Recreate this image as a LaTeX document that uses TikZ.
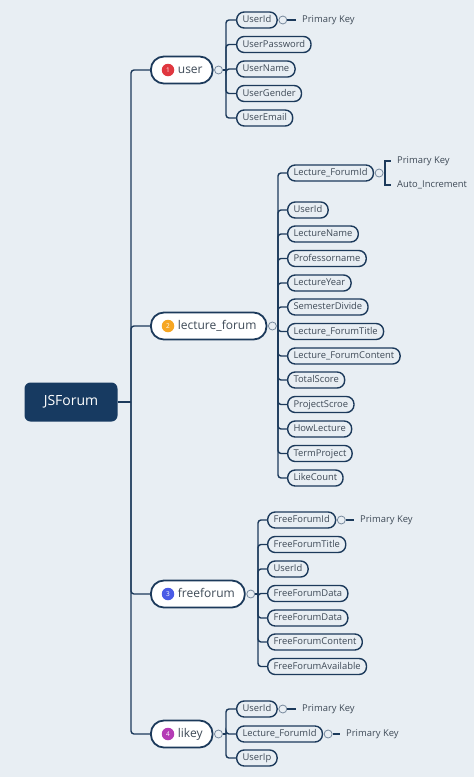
\documentclass[tikz,border=0pt]{standalone}
\usepackage{fontspec}
\setmainfont{Open Sans}
\definecolor{bg}{HTML}{E8EEF3}
\definecolor{navy}{HTML}{1C3A5B}
\definecolor{rootc}{HTML}{173A61}
\definecolor{txt}{HTML}{3E4A57}
\definecolor{bred}{HTML}{E0373F}
\definecolor{borange}{HTML}{F6A623}
\definecolor{bblue}{HTML}{4A5BE6}
\definecolor{bpurple}{HTML}{B43BB5}
\begin{document}
\begin{tikzpicture}[x=1pt,y=-1pt,
  rootbox/.style={fill=rootc, rounded corners=6pt, minimum width=93pt, minimum height=39pt, text=white, font=\fontsize{14}{16}\selectfont},
  topic/.style={draw=navy, line width=1.8pt, rounded corners=13pt, fill=white, text=txt, font=\fontsize{12}{14}\selectfont, minimum height=27pt, inner xsep=10pt, inner ysep=0pt, text height=8.5pt, text depth=2.5pt, anchor=west},
  leaf/.style={draw=navy, line width=1.4pt, rounded corners=7.5pt, fill=bg, text=txt, font=\fontsize{9.4}{11}\selectfont, minimum height=16pt, inner xsep=5.8pt, inner ysep=0pt, text height=7pt, text depth=2pt, anchor=west},
  badge/.style={circle, fill=#1, text=white, font=\fontsize{6.5}{7}\selectfont, inner sep=0pt, minimum size=12.5pt},
  fold/.style={circle, draw=navy!60, line width=0.8pt, fill=bg, inner sep=0pt, minimum size=8pt},
  link/.style={draw=navy, line width=1.4pt, rounded corners=3pt},
  note/.style={text=txt, font=\fontsize{9.4}{11}\selectfont, anchor=west, inner sep=0pt, text height=7pt, text depth=2pt}]
\fill[bg] (0,0) rectangle (474,777);
\useasboundingbox (0,0) rectangle (474,777);

% root
\node[rootbox] (root) at (71,402) {JSForum};
\coordinate (trunk) at (131,402);

% topics
\node[topic] (user) at (150,70) {\hspace{17pt}user};
\node[badge=bred] at ([xshift=18pt]user.west) {1};
\node[topic] (lect) at (150,326) {\hspace{17pt}lecture\_forum};
\node[badge=borange] at ([xshift=18pt]lect.west) {2};
\node[topic] (free) at (150,594) {\hspace{17pt}freeforum};
\node[badge=bblue] at ([xshift=18pt]free.west) {3};
\node[topic] (like) at (150,734) {\hspace{17pt}likey};
\node[badge=bpurple] at ([xshift=18pt]like.west) {4};

\draw[link] (root.east) -- (trunk);
\foreach \t in {user,lect,free,like} \draw[link] (trunk) |- (\t.west);

% user children
\node[leaf] (u1) at (236,20) {UserId};
\node[leaf] (u2) at (236,44.5) {UserPassword};
\node[leaf] (u3) at (236,69) {UserName};
\node[leaf] (u4) at (236,93.5) {UserGender};
\node[leaf] (u5) at (236,118) {UserEmail};
\node[fold] (fu) at ([xshift=5pt]user.east) {};
\coordinate (bu) at (226,70);
\draw[link] (fu.east) -- (bu);
\foreach \c in {u1,u2,u3,u4,u5} \draw[link] (bu) |- (\c.west);
\node[fold] (fu1) at ([xshift=5pt]u1.east) {};
\node[note] (pku1) at (302,20) {Primary Key};
\draw[link, shorten >=6pt] (fu1.east) -- (pku1.west);

% lecture_forum children
\node[leaf] (l1) at (287,173) {Lecture\_ForumId};
\node[leaf] (l2) at (287,210) {UserId};
\node[leaf] (l3) at (287,234) {LectureName};
\node[leaf] (l4) at (287,258.5) {Professorname};
\node[leaf] (l5) at (287,283) {LectureYear};
\node[leaf] (l6) at (287,307) {SemesterDivide};
\node[leaf] (l7) at (287,331.5) {Lecture\_ForumTitle};
\node[leaf] (l8) at (287,356) {Lecture\_ForumContent};
\node[leaf] (l9) at (287,380) {TotalScore};
\node[leaf] (l10) at (287,404.5) {ProjectScroe};
\node[leaf] (l11) at (287,429) {HowLecture};
\node[leaf] (l12) at (287,453.5) {TermProject};
\node[leaf] (l13) at (287,478) {LikeCount};
\node[fold] (fl) at ([xshift=5pt]lect.east) {};
\coordinate (bl) at (278,326);
\draw[link] (fl.east) -- (bl);
\foreach \c in {l1,l2,l3,l4,l5,l6,l7,l8,l9,l10,l11,l12,l13} \draw[link] (bl) |- (\c.west);
\node[fold] (fl1) at ([xshift=5pt]l1.east) {};
\coordinate (brl) at (385,173);
\node[note] (pkl1) at (397,161) {Primary Key};
\node[note] (ail1) at (397,185) {Auto\_Increment};
\draw[link, rounded corners=0pt] (fl1.east) -- (brl);
\draw[link, rounded corners=0pt, shorten >=6pt] (brl) |- (pkl1.west);
\draw[link, rounded corners=0pt, shorten >=6pt] (brl) |- (ail1.west);

% freeforum children
\node[leaf] (f1) at (267,520) {FreeForumId};
\node[leaf] (f2) at (267,544.5) {FreeForumTitle};
\node[leaf] (f3) at (267,569) {UserId};
\node[leaf] (f4) at (267,593.5) {FreeForumData};
\node[leaf] (f5) at (267,618) {FreeForumData};
\node[leaf] (f6) at (267,642) {FreeForumContent};
\node[leaf] (f7) at (267,666.5) {FreeForumAvailable};
\node[fold] (ff) at ([xshift=5pt]free.east) {};
\coordinate (bf) at (258,594);
\draw[link] (ff.east) -- (bf);
\foreach \c in {f1,f2,f3,f4,f5,f6,f7} \draw[link] (bf) |- (\c.west);
\node[fold] (ff1) at ([xshift=5pt]f1.east) {};
\node[note] (pkf1) at (360,520) {Primary Key};
\draw[link, shorten >=6pt] (ff1.east) -- (pkf1.west);

% likey children
\node[leaf] (k1) at (236,709) {UserId};
\node[leaf] (k2) at (236,734) {Lecture\_ForumId};
\node[leaf] (k3) at (236,758) {UserIp};
\node[fold] (fk) at ([xshift=5pt]like.east) {};
\coordinate (bk) at (226,734);
\draw[link] (fk.east) -- (bk);
\foreach \c in {k1,k2,k3} \draw[link] (bk) |- (\c.west);
\node[fold] (fk1) at ([xshift=5pt]k1.east) {};
\node[note] (pkk1) at (302,709) {Primary Key};
\draw[link, shorten >=6pt] (fk1.east) -- (pkk1.west);
\node[fold] (fk2) at ([xshift=5pt]k2.east) {};
\node[note] (pkk2) at (346,734) {Primary Key};
\draw[link, shorten >=6pt] (fk2.east) -- (pkk2.west);
\end{tikzpicture}
\end{document}
